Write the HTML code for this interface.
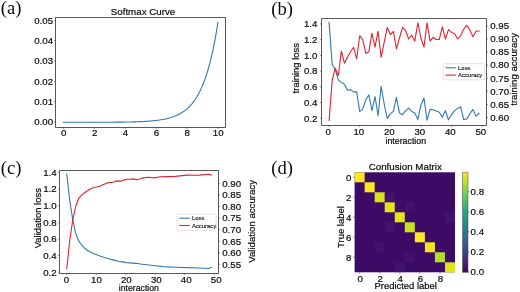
<!DOCTYPE html><html><head><meta charset="utf-8"><title>Figure</title><style>html,body{margin:0;padding:0;background:#fff}svg{display:block}</style></head><body>
<svg width="520" height="292" viewBox="0 0 520 292" font-family="Liberation Sans, Arial, sans-serif" fill="#0a0a0a" stroke="#0a0a0a" stroke-width="0.2" stroke-linejoin="round">
<rect width="520" height="292" fill="#fff" stroke="none"/>
<text x="0.8" y="13.8" font-size="18.6" text-anchor="start" font-family="Liberation Serif, Times New Roman, serif" stroke="none">(a)</text>
<text x="271.2" y="14.9" font-size="18.6" text-anchor="start" font-family="Liberation Serif, Times New Roman, serif" stroke="none">(b)</text>
<text x="0.8" y="173.5" font-size="18.6" text-anchor="start" font-family="Liberation Serif, Times New Roman, serif" stroke="none">(c)</text>
<text x="271.2" y="173.5" font-size="18.6" text-anchor="start" font-family="Liberation Serif, Times New Roman, serif" stroke="none">(d)</text>
<rect x="55.5" y="17.5" width="170.0" height="110.0" fill="none" stroke="#3a3a3a" stroke-width="0.85"/>
<text x="143.0" y="14.9" font-size="9.75" text-anchor="middle" >Softmax Curve</text>
<line x1="63.4" y1="127.5" x2="63.4" y2="128.9" stroke="#3a3a3a" stroke-width="0.6"/>
<text x="63.699999999999996" y="136.4" font-size="9.7" text-anchor="middle" >0</text>
<line x1="94.3" y1="127.5" x2="94.3" y2="128.9" stroke="#3a3a3a" stroke-width="0.6"/>
<text x="94.6" y="136.4" font-size="9.7" text-anchor="middle" >2</text>
<line x1="125.19999999999999" y1="127.5" x2="125.19999999999999" y2="128.9" stroke="#3a3a3a" stroke-width="0.6"/>
<text x="125.49999999999999" y="136.4" font-size="9.7" text-anchor="middle" >4</text>
<line x1="156.1" y1="127.5" x2="156.1" y2="128.9" stroke="#3a3a3a" stroke-width="0.6"/>
<text x="156.4" y="136.4" font-size="9.7" text-anchor="middle" >6</text>
<line x1="187.0" y1="127.5" x2="187.0" y2="128.9" stroke="#3a3a3a" stroke-width="0.6"/>
<text x="187.3" y="136.4" font-size="9.7" text-anchor="middle" >8</text>
<line x1="217.9" y1="127.5" x2="217.9" y2="128.9" stroke="#3a3a3a" stroke-width="0.6"/>
<text x="218.20000000000002" y="136.4" font-size="9.7" text-anchor="middle" >10</text>
<line x1="55.5" y1="122.1" x2="54.1" y2="122.1" stroke="#3a3a3a" stroke-width="0.6"/>
<text x="53.1" y="125.39999999999999" font-size="9.7" text-anchor="end" >0.00</text>
<line x1="55.5" y1="101.74" x2="54.1" y2="101.74" stroke="#3a3a3a" stroke-width="0.6"/>
<text x="53.1" y="105.03999999999999" font-size="9.7" text-anchor="end" >0.01</text>
<line x1="55.5" y1="81.38" x2="54.1" y2="81.38" stroke="#3a3a3a" stroke-width="0.6"/>
<text x="53.1" y="84.67999999999999" font-size="9.7" text-anchor="end" >0.02</text>
<line x1="55.5" y1="61.019999999999996" x2="54.1" y2="61.019999999999996" stroke="#3a3a3a" stroke-width="0.6"/>
<text x="53.1" y="64.32" font-size="9.7" text-anchor="end" >0.03</text>
<line x1="55.5" y1="40.66" x2="54.1" y2="40.66" stroke="#3a3a3a" stroke-width="0.6"/>
<text x="53.1" y="43.959999999999994" font-size="9.7" text-anchor="end" >0.04</text>
<line x1="55.5" y1="20.299999999999997" x2="54.1" y2="20.299999999999997" stroke="#3a3a3a" stroke-width="0.6"/>
<text x="53.1" y="23.599999999999998" font-size="9.7" text-anchor="end" >0.05</text>
<polyline points="63.40,122.30 64.17,122.30 64.94,122.29 65.72,122.29 66.49,122.29 67.26,122.29 68.03,122.29 68.81,122.29 69.58,122.29 70.35,122.29 71.12,122.29 71.90,122.29 72.67,122.29 73.44,122.29 74.22,122.29 74.99,122.29 75.76,122.29 76.53,122.29 77.30,122.29 78.08,122.29 78.85,122.29 79.62,122.29 80.39,122.29 81.17,122.29 81.94,122.28 82.71,122.28 83.48,122.28 84.26,122.28 85.03,122.28 85.80,122.28 86.57,122.28 87.35,122.28 88.12,122.28 88.89,122.28 89.66,122.28 90.44,122.27 91.21,122.27 91.98,122.27 92.75,122.27 93.53,122.27 94.30,122.27 95.07,122.26 95.84,122.26 96.62,122.26 97.39,122.26 98.16,122.26 98.94,122.25 99.71,122.25 100.48,122.25 101.25,122.25 102.03,122.24 102.80,122.24 103.57,122.24 104.34,122.24 105.12,122.23 105.89,122.23 106.66,122.23 107.43,122.22 108.20,122.22 108.98,122.21 109.75,122.21 110.52,122.20 111.29,122.20 112.07,122.19 112.84,122.19 113.61,122.18 114.38,122.18 115.16,122.17 115.93,122.16 116.70,122.16 117.47,122.15 118.25,122.14 119.02,122.13 119.79,122.13 120.56,122.12 121.34,122.11 122.11,122.10 122.88,122.09 123.66,122.08 124.43,122.06 125.20,122.05 125.97,122.04 126.74,122.03 127.52,122.01 128.29,122.00 129.06,121.98 129.83,121.97 130.61,121.95 131.38,121.93 132.15,121.91 132.92,121.89 133.70,121.87 134.47,121.85 135.24,121.83 136.01,121.80 136.79,121.78 137.56,121.75 138.33,121.72 139.10,121.69 139.88,121.66 140.65,121.63 141.42,121.59 142.19,121.56 142.97,121.52 143.74,121.48 144.51,121.44 145.28,121.39 146.06,121.35 146.83,121.30 147.60,121.25 148.38,121.19 149.15,121.13 149.92,121.08 150.69,121.01 151.47,120.95 152.24,120.88 153.01,120.80 153.78,120.73 154.56,120.65 155.33,120.56 156.10,120.47 156.87,120.38 157.64,120.28 158.42,120.18 159.19,120.07 159.96,119.95 160.73,119.83 161.51,119.71 162.28,119.57 163.05,119.43 163.82,119.29 164.60,119.13 165.37,118.97 166.14,118.80 166.91,118.62 167.69,118.43 168.46,118.23 169.23,118.02 170.00,117.81 170.78,117.58 171.55,117.33 172.32,117.08 173.09,116.81 173.87,116.53 174.64,116.23 175.41,115.92 176.19,115.60 176.96,115.25 177.73,114.89 178.50,114.51 179.28,114.11 180.05,113.69 180.82,113.25 181.59,112.79 182.37,112.30 183.14,111.78 183.91,111.25 184.68,110.68 185.46,110.08 186.23,109.46 187.00,108.80 187.77,108.11 188.54,107.38 189.32,106.61 190.09,105.81 190.86,104.96 191.64,104.07 192.41,103.14 193.18,102.16 193.95,101.13 194.72,100.04 195.50,98.90 196.27,97.70 197.04,96.44 197.81,95.11 198.59,93.72 199.36,92.25 200.13,90.71 200.91,89.09 201.68,87.39 202.45,85.60 203.22,83.72 204.00,81.74 204.77,79.66 205.54,77.47 206.31,75.17 207.09,72.76 207.86,70.22 208.63,67.55 209.40,64.74 210.18,61.79 210.95,58.69 211.72,55.43 212.49,52.00 213.26,48.39 214.04,44.60 214.81,40.62 215.58,36.43 216.36,32.03 217.13,27.40 217.90,22.54" fill="none" stroke="#3379b0" stroke-width="1.1" stroke-linejoin="round" stroke-linecap="square"/>
<rect x="321.5" y="18.5" width="165.0" height="107.0" fill="none" stroke="#3a3a3a" stroke-width="0.85"/>
<line x1="329.1" y1="125.5" x2="329.1" y2="126.9" stroke="#3a3a3a" stroke-width="0.6"/>
<text x="328.3" y="134.7" font-size="9.7" text-anchor="middle" >0</text>
<line x1="359.70000000000005" y1="125.5" x2="359.70000000000005" y2="126.9" stroke="#3a3a3a" stroke-width="0.6"/>
<text x="358.8" y="134.7" font-size="9.7" text-anchor="middle" >10</text>
<line x1="390.3" y1="125.5" x2="390.3" y2="126.9" stroke="#3a3a3a" stroke-width="0.6"/>
<text x="389.3" y="134.7" font-size="9.7" text-anchor="middle" >20</text>
<line x1="420.90000000000003" y1="125.5" x2="420.90000000000003" y2="126.9" stroke="#3a3a3a" stroke-width="0.6"/>
<text x="419.8" y="134.7" font-size="9.7" text-anchor="middle" >30</text>
<line x1="451.5" y1="125.5" x2="451.5" y2="126.9" stroke="#3a3a3a" stroke-width="0.6"/>
<text x="450.3" y="134.7" font-size="9.7" text-anchor="middle" >40</text>
<line x1="482.1" y1="125.5" x2="482.1" y2="126.9" stroke="#3a3a3a" stroke-width="0.6"/>
<text x="480.8" y="134.7" font-size="9.7" text-anchor="middle" >50</text>
<line x1="321.5" y1="118.3" x2="320.1" y2="118.3" stroke="#3a3a3a" stroke-width="0.6"/>
<text x="317.4" y="121.6" font-size="9.7" text-anchor="end" >0.2</text>
<line x1="321.5" y1="102.58" x2="320.1" y2="102.58" stroke="#3a3a3a" stroke-width="0.6"/>
<text x="317.4" y="105.88" font-size="9.7" text-anchor="end" >0.4</text>
<line x1="321.5" y1="86.86" x2="320.1" y2="86.86" stroke="#3a3a3a" stroke-width="0.6"/>
<text x="317.4" y="90.16" font-size="9.7" text-anchor="end" >0.6</text>
<line x1="321.5" y1="71.13999999999999" x2="320.1" y2="71.13999999999999" stroke="#3a3a3a" stroke-width="0.6"/>
<text x="317.4" y="74.43999999999998" font-size="9.7" text-anchor="end" >0.8</text>
<line x1="321.5" y1="55.419999999999995" x2="320.1" y2="55.419999999999995" stroke="#3a3a3a" stroke-width="0.6"/>
<text x="317.4" y="58.71999999999999" font-size="9.7" text-anchor="end" >1.0</text>
<line x1="321.5" y1="39.69999999999999" x2="320.1" y2="39.69999999999999" stroke="#3a3a3a" stroke-width="0.6"/>
<text x="317.4" y="42.999999999999986" font-size="9.7" text-anchor="end" >1.2</text>
<line x1="321.5" y1="23.97999999999999" x2="320.1" y2="23.97999999999999" stroke="#3a3a3a" stroke-width="0.6"/>
<text x="317.4" y="27.27999999999999" font-size="9.7" text-anchor="end" >1.4</text>
<line x1="486.5" y1="117.5" x2="487.9" y2="117.5" stroke="#3a3a3a" stroke-width="0.6"/>
<text x="490.2" y="120.8" font-size="9.7" text-anchor="start" >0.60</text>
<line x1="486.5" y1="104.4" x2="487.9" y2="104.4" stroke="#3a3a3a" stroke-width="0.6"/>
<text x="490.2" y="107.7" font-size="9.7" text-anchor="start" >0.65</text>
<line x1="486.5" y1="91.3" x2="487.9" y2="91.3" stroke="#3a3a3a" stroke-width="0.6"/>
<text x="490.2" y="94.6" font-size="9.7" text-anchor="start" >0.70</text>
<line x1="486.5" y1="78.2" x2="487.9" y2="78.2" stroke="#3a3a3a" stroke-width="0.6"/>
<text x="490.2" y="81.5" font-size="9.7" text-anchor="start" >0.75</text>
<line x1="486.5" y1="65.1" x2="487.9" y2="65.1" stroke="#3a3a3a" stroke-width="0.6"/>
<text x="490.2" y="68.39999999999999" font-size="9.7" text-anchor="start" >0.80</text>
<line x1="486.5" y1="52.0" x2="487.9" y2="52.0" stroke="#3a3a3a" stroke-width="0.6"/>
<text x="490.2" y="55.3" font-size="9.7" text-anchor="start" >0.85</text>
<line x1="486.5" y1="38.900000000000006" x2="487.9" y2="38.900000000000006" stroke="#3a3a3a" stroke-width="0.6"/>
<text x="490.2" y="42.2" font-size="9.7" text-anchor="start" >0.90</text>
<line x1="486.5" y1="25.799999999999997" x2="487.9" y2="25.799999999999997" stroke="#3a3a3a" stroke-width="0.6"/>
<text x="490.2" y="29.099999999999998" font-size="9.7" text-anchor="start" >0.95</text>
<text x="299.5" y="68.2" font-size="9.45" text-anchor="middle" transform="rotate(-90 299.5 68.2)" >training loss</text>
<text x="517.2" y="69.4" font-size="9.65" text-anchor="middle" transform="rotate(-90 517.2 69.4)" >training accuracy</text>
<text x="405.8" y="143.8" font-size="8.8" text-anchor="middle" >interaction</text>
<polyline points="329.10,22.40 332.16,64.50 335.22,69.00 338.28,79.80 341.34,82.40 344.40,84.20 347.46,90.20 350.52,89.60 353.58,91.90 356.64,91.70 359.70,111.70 362.76,108.90 365.82,99.80 368.88,94.90 371.94,110.60 375.00,96.50 378.06,115.60 381.12,86.30 384.18,104.00 387.24,118.40 390.30,113.90 393.36,111.40 396.42,97.40 399.48,113.10 402.54,114.70 405.60,110.60 408.66,108.10 411.72,111.40 414.78,113.10 417.84,119.40 420.90,104.80 423.96,98.20 427.02,120.20 430.08,109.40 433.14,109.80 436.20,111.10 439.26,112.20 442.32,117.20 445.38,110.60 448.44,119.70 451.50,114.70 454.56,110.60 457.62,108.40 460.68,106.80 463.74,119.70 466.80,118.90 469.86,113.90 472.92,109.40 475.98,116.40 479.04,113.40" fill="none" stroke="#3379b0" stroke-width="1.1" stroke-linejoin="round" stroke-linecap="square"/>
<polyline points="329.10,120.40 332.16,80.50 335.22,68.20 338.28,75.70 341.34,51.00 344.40,63.20 347.46,57.20 350.52,51.70 353.58,47.20 356.64,58.80 359.70,35.70 362.76,39.80 365.82,53.40 368.88,51.70 371.94,33.20 375.00,47.20 378.06,31.20 381.12,57.20 384.18,42.30 387.24,27.40 390.30,34.50 393.36,31.50 396.42,48.90 399.48,38.00 402.54,27.40 405.60,30.70 408.66,39.00 411.72,35.20 414.78,41.10 417.84,22.90 420.90,38.00 423.96,47.20 427.02,22.90 430.08,41.10 433.14,37.30 436.20,39.50 439.26,39.50 442.32,26.90 445.38,39.00 448.44,29.60 451.50,32.40 454.56,33.50 457.62,39.00 460.68,35.70 463.74,29.10 466.80,25.30 469.86,29.90 472.92,36.80 475.98,31.20 479.04,31.00" fill="none" stroke="#e2222f" stroke-width="1.1" stroke-linejoin="round" stroke-linecap="square"/>
<rect x="443.1" y="63.7" width="41.50" height="16.10" rx="1.2" fill="#fff" fill-opacity="0.8" stroke="#d0d0d0" stroke-width="0.6"/>
<line x1="445.40000000000003" y1="67.8" x2="455.8" y2="67.8" stroke="#3379b0" stroke-width="1.1"/>
<line x1="445.40000000000003" y1="75.10000000000001" x2="455.8" y2="75.10000000000001" stroke="#e2222f" stroke-width="1.1"/>
<text x="458.1" y="69.89999999999999" font-size="5.9" text-anchor="start" stroke-width="0.1">Loss</text>
<text x="458.1" y="77.2" font-size="5.9" text-anchor="start" stroke-width="0.1">Accuracy</text>
<rect x="59.5" y="170.5" width="159.0" height="103.0" fill="none" stroke="#3a3a3a" stroke-width="0.85"/>
<line x1="66.75" y1="273.5" x2="66.75" y2="274.9" stroke="#3a3a3a" stroke-width="0.6"/>
<text x="66.5" y="283.0" font-size="9.7" text-anchor="middle" >0</text>
<line x1="96.25" y1="273.5" x2="96.25" y2="274.9" stroke="#3a3a3a" stroke-width="0.6"/>
<text x="96.44" y="283.0" font-size="9.7" text-anchor="middle" >10</text>
<line x1="125.75" y1="273.5" x2="125.75" y2="274.9" stroke="#3a3a3a" stroke-width="0.6"/>
<text x="126.38" y="283.0" font-size="9.7" text-anchor="middle" >20</text>
<line x1="155.25" y1="273.5" x2="155.25" y2="274.9" stroke="#3a3a3a" stroke-width="0.6"/>
<text x="156.32" y="283.0" font-size="9.7" text-anchor="middle" >30</text>
<line x1="184.75" y1="273.5" x2="184.75" y2="274.9" stroke="#3a3a3a" stroke-width="0.6"/>
<text x="186.26" y="283.0" font-size="9.7" text-anchor="middle" >40</text>
<line x1="214.25" y1="273.5" x2="214.25" y2="274.9" stroke="#3a3a3a" stroke-width="0.6"/>
<text x="216.20000000000002" y="283.0" font-size="9.7" text-anchor="middle" >50</text>
<line x1="59.5" y1="272.2" x2="58.1" y2="272.2" stroke="#3a3a3a" stroke-width="0.6"/>
<text x="56.6" y="275.5" font-size="9.7" text-anchor="end" >0.2</text>
<line x1="59.5" y1="255.57999999999998" x2="58.1" y2="255.57999999999998" stroke="#3a3a3a" stroke-width="0.6"/>
<text x="56.6" y="258.88" font-size="9.7" text-anchor="end" >0.4</text>
<line x1="59.5" y1="238.95999999999998" x2="58.1" y2="238.95999999999998" stroke="#3a3a3a" stroke-width="0.6"/>
<text x="56.6" y="242.26" font-size="9.7" text-anchor="end" >0.6</text>
<line x1="59.5" y1="222.33999999999997" x2="58.1" y2="222.33999999999997" stroke="#3a3a3a" stroke-width="0.6"/>
<text x="56.6" y="225.64" font-size="9.7" text-anchor="end" >0.8</text>
<line x1="59.5" y1="205.71999999999997" x2="58.1" y2="205.71999999999997" stroke="#3a3a3a" stroke-width="0.6"/>
<text x="56.6" y="209.01999999999998" font-size="9.7" text-anchor="end" >1.0</text>
<line x1="59.5" y1="189.09999999999997" x2="58.1" y2="189.09999999999997" stroke="#3a3a3a" stroke-width="0.6"/>
<text x="56.6" y="192.39999999999998" font-size="9.7" text-anchor="end" >1.2</text>
<line x1="59.5" y1="172.48" x2="58.1" y2="172.48" stroke="#3a3a3a" stroke-width="0.6"/>
<text x="56.6" y="175.78" font-size="9.7" text-anchor="end" >1.4</text>
<line x1="218.5" y1="264.3" x2="219.9" y2="264.3" stroke="#3a3a3a" stroke-width="0.6"/>
<text x="222.2" y="267.6" font-size="9.7" text-anchor="start" >0.55</text>
<line x1="218.5" y1="252.75" x2="219.9" y2="252.75" stroke="#3a3a3a" stroke-width="0.6"/>
<text x="222.2" y="256.05" font-size="9.7" text-anchor="start" >0.60</text>
<line x1="218.5" y1="241.20000000000002" x2="219.9" y2="241.20000000000002" stroke="#3a3a3a" stroke-width="0.6"/>
<text x="222.2" y="244.50000000000003" font-size="9.7" text-anchor="start" >0.65</text>
<line x1="218.5" y1="229.65" x2="219.9" y2="229.65" stroke="#3a3a3a" stroke-width="0.6"/>
<text x="222.2" y="232.95000000000002" font-size="9.7" text-anchor="start" >0.70</text>
<line x1="218.5" y1="218.10000000000002" x2="219.9" y2="218.10000000000002" stroke="#3a3a3a" stroke-width="0.6"/>
<text x="222.2" y="221.40000000000003" font-size="9.7" text-anchor="start" >0.75</text>
<line x1="218.5" y1="206.55" x2="219.9" y2="206.55" stroke="#3a3a3a" stroke-width="0.6"/>
<text x="222.2" y="209.85000000000002" font-size="9.7" text-anchor="start" >0.80</text>
<line x1="218.5" y1="195.0" x2="219.9" y2="195.0" stroke="#3a3a3a" stroke-width="0.6"/>
<text x="222.2" y="198.3" font-size="9.7" text-anchor="start" >0.85</text>
<line x1="218.5" y1="183.45" x2="219.9" y2="183.45" stroke="#3a3a3a" stroke-width="0.6"/>
<text x="222.2" y="186.75" font-size="9.7" text-anchor="start" >0.90</text>
<text x="41.2" y="218.2" font-size="9.45" text-anchor="middle" transform="rotate(-90 41.2 218.2)" >Validation loss</text>
<text x="255" y="221.4" font-size="9.65" text-anchor="middle" transform="rotate(-90 255 221.4)" >Validation accuracy</text>
<text x="138.9" y="290.7" font-size="8.7" text-anchor="middle" >interaction</text>
<polyline points="66.75,174.30 69.76,200.50 72.78,219.80 75.79,234.00 78.80,241.20 81.81,245.20 84.83,248.30 87.84,250.70 90.85,252.30 93.87,253.70 96.88,254.80 99.89,256.00 102.91,257.00 105.92,258.00 108.93,258.80 111.94,259.60 114.96,260.40 117.97,261.30 120.98,261.60 124.00,262.10 127.01,262.80 130.02,262.90 133.04,263.10 136.05,263.40 139.06,263.75 142.07,264.25 151.11,265.30 163.17,266.60 175.22,267.20 187.27,267.60 199.32,268.00 208.36,268.50 211.37,267.40" fill="none" stroke="#3379b0" stroke-width="1.1" stroke-linejoin="round" stroke-linecap="square"/>
<polyline points="66.75,268.70 69.76,240.00 72.78,219.80 75.79,206.00 78.80,198.20 81.81,194.90 84.83,192.50 87.84,190.50 90.85,188.80 93.87,187.50 96.88,187.00 99.89,186.20 102.91,184.70 105.92,183.40 108.93,182.50 111.94,182.50 114.96,181.40 117.97,180.90 120.98,181.20 124.00,180.10 127.01,179.20 130.02,179.20 133.04,178.90 136.05,179.60 139.06,179.20 142.07,178.10 148.10,177.20 154.13,177.90 160.15,176.80 166.18,176.60 175.22,176.40 187.27,175.10 193.30,175.30 199.32,175.10 208.36,174.30 211.37,175.00" fill="none" stroke="#e2222f" stroke-width="1.1" stroke-linejoin="round" stroke-linecap="square"/>
<rect x="177.0" y="214.1" width="39.20" height="16.30" rx="1.2" fill="#fff" fill-opacity="0.8" stroke="#d0d0d0" stroke-width="0.6"/>
<line x1="179.3" y1="218.2" x2="189.7" y2="218.2" stroke="#3379b0" stroke-width="1.1"/>
<line x1="179.3" y1="225.5" x2="189.7" y2="225.5" stroke="#e2222f" stroke-width="1.1"/>
<text x="192.0" y="220.29999999999998" font-size="5.9" text-anchor="start" stroke-width="0.1">Loss</text>
<text x="192.0" y="227.6" font-size="5.9" text-anchor="start" stroke-width="0.1">Accuracy</text>
<rect x="354.6" y="172.3" width="100.39999999999999" height="100.0" fill="#3d0a65" stroke="none"/>
<rect x="354.6" y="172.3" width="10.04" height="10.0" fill="#fde725" stroke="none"/>
<rect x="364.64000000000004" y="182.3" width="10.04" height="10.0" fill="#fde725" stroke="none"/>
<rect x="374.68" y="192.3" width="10.04" height="10.0" fill="#d8e219" stroke="none"/>
<rect x="384.72" y="202.3" width="10.04" height="10.0" fill="#e5e419" stroke="none"/>
<rect x="394.76" y="212.3" width="10.04" height="10.0" fill="#e2e418" stroke="none"/>
<rect x="404.8" y="222.3" width="10.04" height="10.0" fill="#c8e020" stroke="none"/>
<rect x="414.84000000000003" y="232.3" width="10.04" height="10.0" fill="#fde725" stroke="none"/>
<rect x="424.88" y="242.3" width="10.04" height="10.0" fill="#f4e61e" stroke="none"/>
<rect x="434.92" y="252.3" width="10.04" height="10.0" fill="#b5de2b" stroke="none"/>
<rect x="444.96000000000004" y="262.3" width="10.04" height="10.0" fill="#dfe318" stroke="none"/>
<rect x="404.8" y="202.3" width="10.04" height="10.0" fill="#4a2585" fill-opacity="0.35" stroke="none"/>
<rect x="444.96000000000004" y="212.3" width="10.04" height="10.0" fill="#4a2585" fill-opacity="0.35" stroke="none"/>
<rect x="384.72" y="222.3" width="10.04" height="10.0" fill="#4a2585" fill-opacity="0.35" stroke="none"/>
<rect x="384.72" y="192.3" width="10.04" height="10.0" fill="#4a2585" fill-opacity="0.35" stroke="none"/>
<rect x="404.8" y="252.3" width="10.04" height="10.0" fill="#4a2585" fill-opacity="0.35" stroke="none"/>
<rect x="374.68" y="242.3" width="10.04" height="10.0" fill="#4a2585" fill-opacity="0.35" stroke="none"/>
<rect x="394.76" y="262.3" width="10.04" height="10.0" fill="#4a2585" fill-opacity="0.35" stroke="none"/>
<text x="405.3" y="169.9" font-size="9.75" text-anchor="middle" >Confusion Matrix</text>
<line x1="359.62" y1="272.3" x2="359.62" y2="273.7" stroke="#3a3a3a" stroke-width="0.6"/>
<text x="360.12" y="281.90000000000003" font-size="9.7" text-anchor="middle" >0</text>
<line x1="354.6" y1="177.3" x2="353.20000000000005" y2="177.3" stroke="#3a3a3a" stroke-width="0.6"/>
<text x="351.40000000000003" y="181.20000000000002" font-size="9.7" text-anchor="end" >0</text>
<line x1="379.7" y1="272.3" x2="379.7" y2="273.7" stroke="#3a3a3a" stroke-width="0.6"/>
<text x="380.2" y="281.90000000000003" font-size="9.7" text-anchor="middle" >2</text>
<line x1="354.6" y1="197.3" x2="353.20000000000005" y2="197.3" stroke="#3a3a3a" stroke-width="0.6"/>
<text x="351.40000000000003" y="201.20000000000002" font-size="9.7" text-anchor="end" >2</text>
<line x1="399.78" y1="272.3" x2="399.78" y2="273.7" stroke="#3a3a3a" stroke-width="0.6"/>
<text x="400.28" y="281.90000000000003" font-size="9.7" text-anchor="middle" >4</text>
<line x1="354.6" y1="217.3" x2="353.20000000000005" y2="217.3" stroke="#3a3a3a" stroke-width="0.6"/>
<text x="351.40000000000003" y="221.20000000000002" font-size="9.7" text-anchor="end" >4</text>
<line x1="419.86" y1="272.3" x2="419.86" y2="273.7" stroke="#3a3a3a" stroke-width="0.6"/>
<text x="420.36" y="281.90000000000003" font-size="9.7" text-anchor="middle" >6</text>
<line x1="354.6" y1="237.3" x2="353.20000000000005" y2="237.3" stroke="#3a3a3a" stroke-width="0.6"/>
<text x="351.40000000000003" y="241.20000000000002" font-size="9.7" text-anchor="end" >6</text>
<line x1="439.94" y1="272.3" x2="439.94" y2="273.7" stroke="#3a3a3a" stroke-width="0.6"/>
<text x="440.44" y="281.90000000000003" font-size="9.7" text-anchor="middle" >8</text>
<line x1="354.6" y1="257.3" x2="353.20000000000005" y2="257.3" stroke="#3a3a3a" stroke-width="0.6"/>
<text x="351.40000000000003" y="261.2" font-size="9.7" text-anchor="end" >8</text>
<text x="343.6" y="227" font-size="9.5" text-anchor="middle" transform="rotate(-90 343.6 227)" >True label</text>
<text x="405.7" y="288.8" font-size="9.45" text-anchor="middle" >Predicted label</text>
<defs><linearGradient id="vir" x1="0" y1="1" x2="0" y2="0">
<stop offset="0.0" stop-color="#440154"/>
<stop offset="0.1" stop-color="#482475"/>
<stop offset="0.2" stop-color="#414487"/>
<stop offset="0.3" stop-color="#355f8d"/>
<stop offset="0.4" stop-color="#2a788e"/>
<stop offset="0.5" stop-color="#21918c"/>
<stop offset="0.6" stop-color="#22a884"/>
<stop offset="0.7" stop-color="#44bf70"/>
<stop offset="0.8" stop-color="#7ad151"/>
<stop offset="0.9" stop-color="#bddf26"/>
<stop offset="1.0" stop-color="#fde725"/>
</linearGradient></defs>
<rect x="462.5" y="172.3" width="5.5" height="100.0" fill="url(#vir)" stroke="#444" stroke-width="0.5"/>
<line x1="468" y1="272.0" x2="469.3" y2="272.0" stroke="#3a3a3a" stroke-width="0.6"/>
<text x="470.6" y="275.3" font-size="9.7" text-anchor="start" >0.0</text>
<line x1="468" y1="251.9" x2="469.3" y2="251.9" stroke="#3a3a3a" stroke-width="0.6"/>
<text x="470.6" y="255.20000000000002" font-size="9.7" text-anchor="start" >0.2</text>
<line x1="468" y1="231.8" x2="469.3" y2="231.8" stroke="#3a3a3a" stroke-width="0.6"/>
<text x="470.6" y="235.10000000000002" font-size="9.7" text-anchor="start" >0.4</text>
<line x1="468" y1="211.7" x2="469.3" y2="211.7" stroke="#3a3a3a" stroke-width="0.6"/>
<text x="470.6" y="215.0" font-size="9.7" text-anchor="start" >0.6</text>
<line x1="468" y1="191.6" x2="469.3" y2="191.6" stroke="#3a3a3a" stroke-width="0.6"/>
<text x="470.6" y="194.9" font-size="9.7" text-anchor="start" >0.8</text>
</svg></body></html>
